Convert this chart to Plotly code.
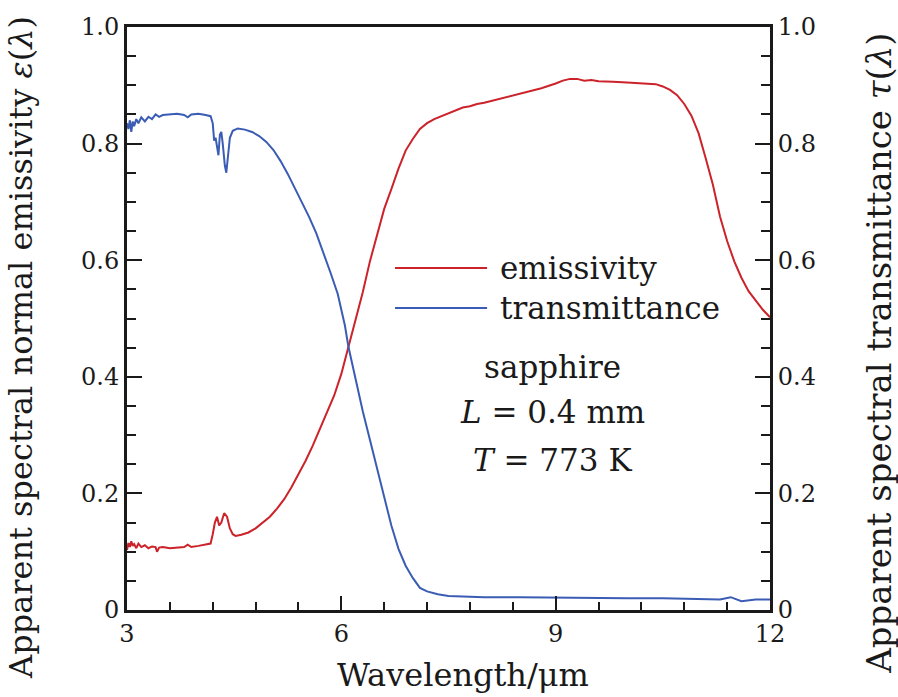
import plotly.graph_objects as go

# ---------------- data ----------------
lam_e = [3.00, 3.02, 3.04, 3.06, 3.08, 3.10, 3.13, 3.16, 3.20, 3.25, 3.30, 3.35, 3.40,
         3.42, 3.45, 3.50, 3.60, 3.70, 3.80, 3.85, 3.90, 4.00, 4.10, 4.17, 4.20, 4.23,
         4.26, 4.29, 4.32, 4.36, 4.40, 4.44, 4.48, 4.52, 4.60, 4.70, 4.80, 4.90, 5.00,
         5.10, 5.20, 5.30, 5.40, 5.50, 5.60, 5.70, 5.80, 5.90, 6.00, 6.10, 6.20, 6.30,
         6.40, 6.50, 6.60, 6.70, 6.80, 6.90, 7.00, 7.10, 7.20, 7.30, 7.40, 7.50, 7.60,
         7.70, 7.80, 7.90, 8.00, 8.20, 8.40, 8.60, 8.80, 9.00, 9.10, 9.20, 9.30, 9.40,
         9.50, 9.60, 9.70, 9.80, 10.0, 10.2, 10.4, 10.5, 10.6, 10.7, 10.8, 10.9, 11.0,
         11.1, 11.2, 11.3, 11.4, 11.5, 11.6, 11.7, 11.8, 11.9, 12.0]
emissivity = [0.103, 0.115, 0.108, 0.118, 0.110, 0.113, 0.106, 0.114, 0.108, 0.111, 0.106,
              0.109, 0.108, 0.100, 0.107, 0.108, 0.106, 0.107, 0.108, 0.112, 0.108, 0.110,
              0.112, 0.114, 0.130, 0.150, 0.160, 0.145, 0.150, 0.166, 0.160, 0.140, 0.130,
              0.127, 0.129, 0.133, 0.140, 0.150, 0.160, 0.174, 0.190, 0.210, 0.232, 0.256,
              0.282, 0.310, 0.338, 0.368, 0.405, 0.452, 0.497, 0.545, 0.598, 0.645, 0.688,
              0.722, 0.757, 0.788, 0.808, 0.825, 0.835, 0.842, 0.847, 0.853, 0.858, 0.862,
              0.864, 0.868, 0.870, 0.876, 0.882, 0.888, 0.895, 0.903, 0.908, 0.911, 0.911,
              0.908, 0.909, 0.907, 0.907, 0.906, 0.905, 0.904, 0.902, 0.898, 0.892, 0.883,
              0.868, 0.848, 0.818, 0.775, 0.730, 0.675, 0.633, 0.598, 0.570, 0.547, 0.530,
              0.515, 0.502]

lam_t = [3.00, 3.02, 3.04, 3.06, 3.08, 3.10, 3.13, 3.16, 3.20, 3.25, 3.30, 3.35, 3.40,
         3.45, 3.50, 3.60, 3.70, 3.80, 3.85, 3.90, 4.00, 4.10, 4.17, 4.20, 4.22, 4.24,
         4.26, 4.28, 4.30, 4.32, 4.34, 4.37, 4.39, 4.41, 4.44, 4.48, 4.55, 4.65, 4.75,
         4.85, 4.95, 5.05, 5.15, 5.25, 5.35, 5.45, 5.55, 5.65, 5.75, 5.85, 5.95, 6.00,
         6.05, 6.10, 6.20, 6.30, 6.40, 6.50, 6.60, 6.70, 6.80, 6.90, 7.00, 7.10, 7.20,
         7.35, 7.50, 7.70, 8.00, 8.50, 9.00, 9.50, 10.0, 10.5, 11.0, 11.3, 11.45, 11.6,
         11.8, 12.0]
transmittance = [0.835, 0.825, 0.840, 0.820, 0.838, 0.830, 0.842, 0.835, 0.845, 0.838,
                 0.846, 0.842, 0.850, 0.846, 0.849, 0.850, 0.851, 0.849, 0.845, 0.850,
                 0.851, 0.849, 0.847, 0.835, 0.805, 0.810, 0.790, 0.780, 0.815, 0.820,
                 0.800, 0.762, 0.750, 0.770, 0.810, 0.822, 0.826, 0.824, 0.820, 0.813,
                 0.803, 0.789, 0.770, 0.748, 0.723, 0.699, 0.674, 0.646, 0.613, 0.578,
                 0.542, 0.517, 0.488, 0.451, 0.395, 0.341, 0.292, 0.243, 0.195, 0.145,
                 0.105, 0.076, 0.055, 0.038, 0.032, 0.027, 0.024, 0.023, 0.022, 0.022,
                 0.021, 0.021, 0.020, 0.020, 0.019, 0.018, 0.022, 0.015, 0.018, 0.018]

x_tick_vals = [3, 6, 9, 12]
x_tick_text = ["3", "6", "9", "12"]
y_tick_vals = [0, 0.2, 0.4, 0.6, 0.8, 1.0]
y_tick_text = ["0", "0.2", "0.4", "0.6", "0.8", "1.0"]

series_names = ["emissivity", "transmittance"]
info_lines = ["sapphire", "<i>L</i> = 0.4 mm", "<i>T</i> = 773 K"]
x_title = "Wavelength/μm"
y_title = "Apparent spectral normal emissivity <i>ε</i>(<i>λ</i>)"
y2_title = "Apparent spectral transmittance <i>τ</i>(<i>λ</i>)"

# ---------------- style ----------------
RED = "#cc2229"
BLUE = "#3a5cb4"
INK = "#1a1a1a"
FONT = "DejaVu Serif"

fig = go.Figure()
fig.add_trace(go.Scatter(x=lam_e, y=emissivity, mode="lines", name=series_names[0],
                         line=dict(color=RED, width=2), yaxis="y"))
fig.add_trace(go.Scatter(x=lam_t, y=transmittance, mode="lines", name=series_names[1],
                         line=dict(color=BLUE, width=2), yaxis="y2"))

axis_common = dict(showline=True, linecolor=INK, linewidth=3, ticks="inside",
                   tickcolor=INK, tickwidth=2, showgrid=False, zeroline=False,
                   tickfont=dict(family=FONT, size=24, color=INK))

fig.update_layout(
    width=898, height=697,
    margin=dict(l=127, r=128, t=27, b=87),
    paper_bgcolor="white", plot_bgcolor="white",
    showlegend=False,
    font=dict(family=FONT, color=INK),
    xaxis=dict(range=[3, 12], tickmode="array", tickvals=x_tick_vals, ticktext=x_tick_text,
               ticklen=14, mirror=True,
               minor=dict(dtick=0.6, tick0=3, ticklen=8, tickwidth=2, ticks="inside",
                          tickcolor=INK, showgrid=False),
               **axis_common),
    yaxis=dict(range=[0, 1], tickmode="array", tickvals=y_tick_vals, ticktext=y_tick_text,
               ticklen=15,
               minor=dict(dtick=0.05, tick0=0, ticklen=9, tickwidth=2, ticks="inside",
                          tickcolor=INK, showgrid=False),
               **axis_common),
    yaxis2=dict(range=[0, 1], overlaying="y", side="right", tickmode="array",
                tickvals=y_tick_vals, ticktext=y_tick_text, ticklen=15,
                minor=dict(dtick=0.05, tick0=0, ticklen=9, tickwidth=2, ticks="inside",
                           tickcolor=INK, showgrid=False),
                **axis_common),
)

# axis titles as annotations for exact placement
fig.add_annotation(xref="paper", yref="paper", x=0.5225, y=-0.112, text=x_title,
                   showarrow=False, xanchor="center", yanchor="middle",
                   font=dict(family=FONT, size=32, color=INK))
fig.add_annotation(xref="paper", yref="paper", x=-0.166, y=0.45, text=y_title,
                   showarrow=False, xanchor="center", yanchor="middle", textangle=-90,
                   font=dict(family=FONT, size=32, color=INK))
fig.add_annotation(xref="paper", yref="paper", x=1.17, y=0.44, text=y2_title,
                   showarrow=False, xanchor="center", yanchor="middle", textangle=-90,
                   font=dict(family=FONT, size=34, color=INK))

# legend drawn as line samples + labels (paper coordinates)
legend_y = [0.5866, 0.518]
for name, col, ly in zip(series_names, [RED, BLUE], legend_y):
    fig.add_shape(type="line", xref="paper", yref="paper", x0=0.4168, x1=0.560,
                  y0=ly, y1=ly, line=dict(color=col, width=2))
    fig.add_annotation(xref="paper", yref="paper", x=0.577, y=ly, text=name,
                       showarrow=False, xanchor="left", yanchor="middle",
                       font=dict(family=FONT, size=31, color=INK))

info_y = [0.4168, 0.3396, 0.2573]
for txt, iy in zip(info_lines, info_y):
    fig.add_annotation(xref="paper", yref="paper", x=0.6625, y=iy, text=txt,
                       showarrow=False, xanchor="center", yanchor="middle",
                       font=dict(family=FONT, size=31, color=INK))

fig.write_html("out.html")
